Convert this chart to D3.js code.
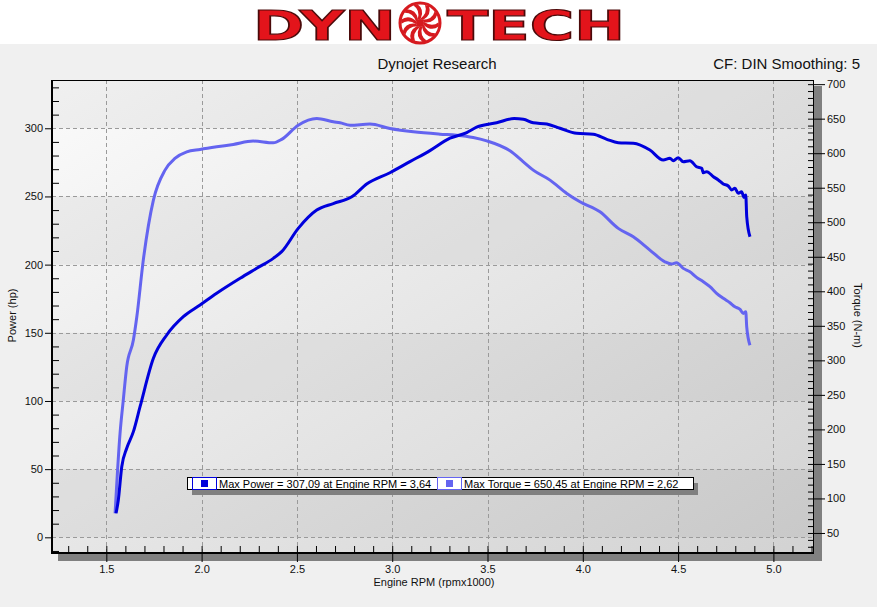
<!DOCTYPE html>
<html>
<head>
<meta charset="utf-8">
<script src="https://cdn.jsdelivr.net/npm/d3@7"></script>
<style>
  body { margin: 0; background: #f0f0f0; }
  text { font-family: "Liberation Sans", Arial, sans-serif; }
</style>
</head>
<body>
<div id="chart"></div>
<script>
// ---- data ----
var powerRpm = [1.551, 1.563, 1.581, 1.607, 1.642, 1.677, 1.747, 1.817, 1.904, 1.992,
  2.079, 2.202, 2.289, 2.376, 2.420, 2.507, 2.604, 2.691, 2.788, 2.866,
  2.988, 3.093, 3.198, 3.303, 3.391, 3.443, 3.548, 3.640, 3.688, 3.740,
  3.811, 3.880, 3.968, 4.055, 4.126, 4.186, 4.265, 4.352, 4.422, 4.457,
  4.475, 4.501, 4.527, 4.562, 4.597, 4.624, 4.632, 4.650, 4.685, 4.711,
  4.737, 4.763, 4.781, 4.798, 4.816, 4.833, 4.846, 4.855, 4.860, 4.877];
var powerHp = [17.6, 27.4, 51.8, 65.3, 77.5, 95.8, 131.3, 148.4, 161.8, 170.4,
  179.0, 190.0, 197.3, 204.6, 209.5, 226.6, 240.0, 244.8, 249.7, 259.1,
  267.4, 275.5, 283.6, 292.7, 296.8, 300.8, 304.0, 307.09, 306.6, 304.0,
  303.1, 300.0, 296.3, 295.6, 291.9, 289.4, 289.0, 284.0, 276.7, 278.0,
  276.2, 278.4, 275.5, 276.2, 271.8, 270.6, 267.4, 268.2, 264.5, 262.1,
  259.1, 257.7, 254.8, 256.0, 252.3, 253.5, 249.4, 251.1, 235.2, 220.5];

var torqueRpm = [1.546, 1.572, 1.589, 1.607, 1.642, 1.660, 1.694, 1.747, 1.808, 1.860,
  1.922, 1.992, 2.079, 2.166, 2.271, 2.376, 2.420, 2.507, 2.604, 2.691,
  2.726, 2.779, 2.883, 2.988, 3.111, 3.251, 3.338, 3.425, 3.496, 3.618,
  3.688, 3.740, 3.828, 3.916, 3.985, 4.090, 4.186, 4.265, 4.352, 4.431,
  4.466, 4.492, 4.527, 4.562, 4.597, 4.632, 4.667, 4.702, 4.737, 4.772,
  4.798, 4.825, 4.842, 4.855, 4.860, 4.877];
var torqueNm = [78.5, 194.3, 242.5, 290.7, 329.4, 363.1, 445.2, 532.0, 575.5, 592.4,
  602.0, 605.4, 609.2, 612.7, 617.5, 615.0, 620.0, 640.6, 650.3, 645.4,
  644.0, 640.6, 642.1, 635.8, 630.9, 627.6, 626.1, 622.8, 617.9, 603.4,
  587.5, 575.5, 561.0, 541.7, 529.6, 515.1, 491.1, 478.9, 459.7, 442.7,
  439.4, 441.3, 433.2, 428.3, 420.2, 413.8, 406.6, 397.0, 389.8, 383.4,
  377.6, 373.8, 368.0, 370.4, 348.6, 322.0];

var rpmTicks = [1.5, 2.0, 2.5, 3.0, 3.5, 4.0, 4.5, 5.0];
var powerTicks = [0, 50, 100, 150, 200, 250, 300];
var torqueTicks = [50, 100, 150, 200, 250, 300, 350, 400, 450, 500, 550, 600, 650, 700];
var legendLabels = ["Max Power = 307,09 at Engine RPM = 3,64", "Max Torque = 650,45 at Engine RPM = 2,62"];

var powerColor = "#0000dc";
var torqueColor = "#6464f0";

var svgWidth = 877;
var svgHeight = 607;

// plot box in pixels
var plot = { left: 52, right: 814, top: 80, bottom: 553 };

var svg = d3.select("#chart")
  .append("svg")
  .attr("width", svgWidth)
  .attr("height", svgHeight);

var defs = svg.append("defs");
var grad = defs.append("linearGradient")
  .attr("id", "plotbg")
  .attr("x1", 0).attr("y1", 0).attr("x2", 1).attr("y2", 1);
grad.append("stop").attr("offset", "0%").attr("stop-color", "#fbfbfb");
grad.append("stop").attr("offset", "100%").attr("stop-color", "#d2d2d2");

// header strip with logo
svg.append("rect").attr("x", 0).attr("y", 0).attr("width", svgWidth).attr("height", 44).attr("fill", "#ffffff");

var logo = svg.append("g");
logo.append("text")
  .attr("x", 253).attr("y", 40)
  .attr("textLength", 143).attr("lengthAdjust", "spacingAndGlyphs")
  .style("font-family", "DejaVu Sans").style("font-weight", "bold").style("font-size", "41px")
  .attr("fill", "#e3141b").attr("stroke", "#4a0a0a").attr("stroke-width", 1.2)
  .text("DYN");
logo.append("text")
  .attr("x", 447).attr("y", 40)
  .attr("textLength", 178).attr("lengthAdjust", "spacingAndGlyphs")
  .style("font-family", "DejaVu Sans").style("font-weight", "bold").style("font-size", "41px")
  .attr("fill", "#e3141b").attr("stroke", "#4a0a0a").attr("stroke-width", 1.2)
  .text("TECH");
// turbine wheel in place of the O
var wheel = logo.append("g").attr("transform", "translate(420,23)");
wheel.append("circle").attr("r", 20).attr("fill", "#ffffff").attr("stroke", "#d61a1f").attr("stroke-width", 3);
wheel.selectAll("path.blade")
  .data(d3.range(10))
  .enter().append("path")
  .attr("class", "blade")
  .attr("d", "M0,-4 Q8,-10 5,-18 L9,-17 Q12,-8 3,-3 Z")
  .attr("fill", "#d61a1f")
  .attr("transform", d => `rotate(${d * 36})`);
wheel.append("circle").attr("r", 4).attr("fill", "#d61a1f");

// titles
svg.append("text")
  .attr("x", 437).attr("y", 69)
  .attr("text-anchor", "middle")
  .style("font-size", "15px").attr("fill", "#111")
  .text("Dynojet Research");
svg.append("text")
  .attr("x", 860).attr("y", 69)
  .attr("text-anchor", "end")
  .style("font-size", "15px").attr("fill", "#111")
  .text("CF: DIN Smoothing: 5");

// scales
var xScale = d3.scaleLinear().domain([1.215, 5.213]).range([plot.left, plot.right]);
var yPower = d3.scaleLinear().domain([-11.5, 335.4]).range([plot.bottom, plot.top]);
var yTorque = d3.scaleLinear().domain([21, 706]).range([plot.bottom, plot.top]);

// drop shadow + plot background
svg.append("rect")
  .attr("x", plot.left + 6).attr("y", plot.top + 6)
  .attr("width", plot.right - plot.left + 2).attr("height", plot.bottom - plot.top + 2)
  .attr("fill", "#808080");
svg.append("rect")
  .attr("x", plot.left).attr("y", plot.top)
  .attr("width", plot.right - plot.left).attr("height", plot.bottom - plot.top)
  .attr("fill", "url(#plotbg)");

// alternating darker bands between the 50 hp gridlines
var bandEdges = [335.4, 300, 250, 200, 150, 100, 50, 0, -11.5];
svg.append("g").selectAll("rect")
  .data(d3.range(bandEdges.length - 1).filter(i => i % 2 == 0))
  .enter().append("rect")
  .attr("x", plot.left)
  .attr("y", i => yPower(bandEdges[i]))
  .attr("width", plot.right - plot.left)
  .attr("height", i => yPower(bandEdges[i + 1]) - yPower(bandEdges[i]))
  .attr("fill", "#000").attr("opacity", 0.045);

// grid
var grid = svg.append("g").attr("stroke", "#9a9a9a").attr("stroke-dasharray", "4,3").attr("stroke-width", 1);
grid.selectAll("line.v").data(rpmTicks).enter().append("line")
  .attr("x1", d => Math.round(xScale(d)) + 0.5).attr("x2", d => Math.round(xScale(d)) + 0.5)
  .attr("y1", plot.top).attr("y2", plot.bottom);
grid.selectAll("line.h").data(powerTicks).enter().append("line")
  .attr("y1", d => Math.round(yPower(d)) + 0.5).attr("y2", d => Math.round(yPower(d)) + 0.5)
  .attr("x1", plot.left).attr("x2", plot.right);

// curves
var clip = defs.append("clipPath").attr("id", "clip");
clip.append("rect").attr("x", plot.left).attr("y", plot.top)
  .attr("width", plot.right - plot.left).attr("height", plot.bottom - plot.top);

var powerLine = d3.line()
  .x((d, i) => xScale(powerRpm[i]))
  .y(d => yPower(d))
  .curve(d3.curveMonotoneX);
var torqueLine = d3.line()
  .x((d, i) => xScale(torqueRpm[i]))
  .y(d => yTorque(d))
  .curve(d3.curveMonotoneX);

var curves = svg.append("g").attr("clip-path", "url(#clip)");
curves.append("path").datum(torqueNm)
  .attr("d", torqueLine)
  .attr("fill", "none").attr("stroke", torqueColor).attr("stroke-width", 3)
  .attr("stroke-linejoin", "round");
curves.append("path").datum(powerHp)
  .attr("d", powerLine)
  .attr("fill", "none").attr("stroke", powerColor).attr("stroke-width", 3)
  .attr("stroke-linejoin", "round");

// legend
var legend = svg.append("g").attr("transform", "translate(187,477)");
legend.append("rect").attr("x", 5).attr("y", 6).attr("width", 506).attr("height", 12).attr("fill", "#808080");
legend.append("rect").attr("x", 0.5).attr("y", 0.5).attr("width", 506).attr("height", 12)
  .attr("fill", "#ffffff").attr("stroke", "#000").attr("stroke-width", 1);
var legendX = [5, 250];
var legendColors = [powerColor, torqueColor];
legendLabels.forEach(function(lbl, i) {
  legend.append("rect")
    .attr("x", legendX[i] + 0.5).attr("y", 0.5).attr("width", 24).attr("height", 12)
    .attr("fill", "#fff").attr("stroke", legendColors[i]).attr("stroke-width", 1);
  legend.append("rect")
    .attr("x", legendX[i] + 9).attr("y", 3).attr("width", 7).attr("height", 7)
    .attr("fill", legendColors[i]);
  legend.append("text")
    .attr("x", legendX[i] + 27).attr("y", 10.5)
    .style("font-size", "11px").attr("fill", "#000")
    .text(lbl);
});

// border of plot
svg.append("rect")
  .attr("x", plot.left + 0.5).attr("y", plot.top + 0.5)
  .attr("width", plot.right - plot.left - 1).attr("height", plot.bottom - plot.top - 1)
  .attr("fill", "none").attr("stroke", "#000").attr("stroke-width", 1);

// axes
var minorRpm = d3.range(13, 53).map(d => d / 10).filter(d => Math.round(d * 10) % 5 != 0);
var minorPower = d3.range(-10, 335, 10).filter(d => d % 50 != 0);
var minorTorque = d3.range(30, 706, 10).filter(d => d % 50 != 0);

function styleAxis(g) {
  g.select(".domain").remove();
  g.selectAll(".tick line").attr("stroke", "#000");
  g.selectAll(".tick text").attr("fill", "#111").style("font-size", "11px")
    .style("font-family", "'Liberation Sans', Arial, sans-serif");
}

// bottom
svg.append("g")
  .attr("transform", `translate(0, ${plot.bottom})`)
  .call(d3.axisBottom(xScale).tickValues(rpmTicks).tickFormat(d3.format(".1f")).tickSize(9).tickPadding(3))
  .call(styleAxis);
svg.append("g")
  .attr("transform", `translate(0, ${plot.bottom})`)
  .call(d3.axisTop(xScale).tickValues(rpmTicks.concat(minorRpm)).tickFormat("").tickSize(7))
  .call(styleAxis);

// left
svg.append("g")
  .attr("transform", `translate(${plot.left}, 0)`)
  .call(d3.axisLeft(yPower).tickValues(powerTicks).tickSize(7).tickPadding(2))
  .call(styleAxis);
svg.append("g")
  .attr("transform", `translate(${plot.left}, 0)`)
  .call(d3.axisRight(yPower).tickValues(minorPower).tickFormat("").tickSize(7))
  .call(styleAxis);

// right
svg.append("g")
  .attr("transform", `translate(${plot.right}, 0)`)
  .call(d3.axisRight(yTorque).tickValues(torqueTicks).tickSize(11).tickPadding(2))
  .call(styleAxis);
svg.append("g")
  .attr("transform", `translate(${plot.right}, 0)`)
  .call(d3.axisLeft(yTorque).tickValues(torqueTicks.concat(minorTorque)).tickFormat("").tickSize(6))
  .call(styleAxis);

// heavier left and bottom axis lines
svg.append("line")
  .attr("x1", plot.left).attr("x2", plot.left).attr("y1", plot.top).attr("y2", plot.bottom + 1)
  .attr("stroke", "#000").attr("stroke-width", 2);
svg.append("line")
  .attr("x1", plot.left - 1).attr("x2", plot.right).attr("y1", plot.bottom).attr("y2", plot.bottom)
  .attr("stroke", "#000").attr("stroke-width", 2);

// axis titles
svg.append("text")
  .attr("transform", `translate(16, ${(plot.top + plot.bottom) / 2 - 1}) rotate(-90)`)
  .attr("text-anchor", "middle")
  .style("font-size", "11px").attr("fill", "#111")
  .text("Power (hp)");
svg.append("text")
  .attr("transform", `translate(854, ${(plot.top + plot.bottom) / 2 - 1}) rotate(90)`)
  .attr("text-anchor", "middle")
  .style("font-size", "11px").attr("fill", "#111")
  .text("Torque (N-m)");
svg.append("text")
  .attr("x", 434).attr("y", 586)
  .attr("text-anchor", "middle")
  .style("font-size", "11px").attr("fill", "#111")
  .text("Engine RPM (rpmx1000)");
</script>
</body>
</html>
